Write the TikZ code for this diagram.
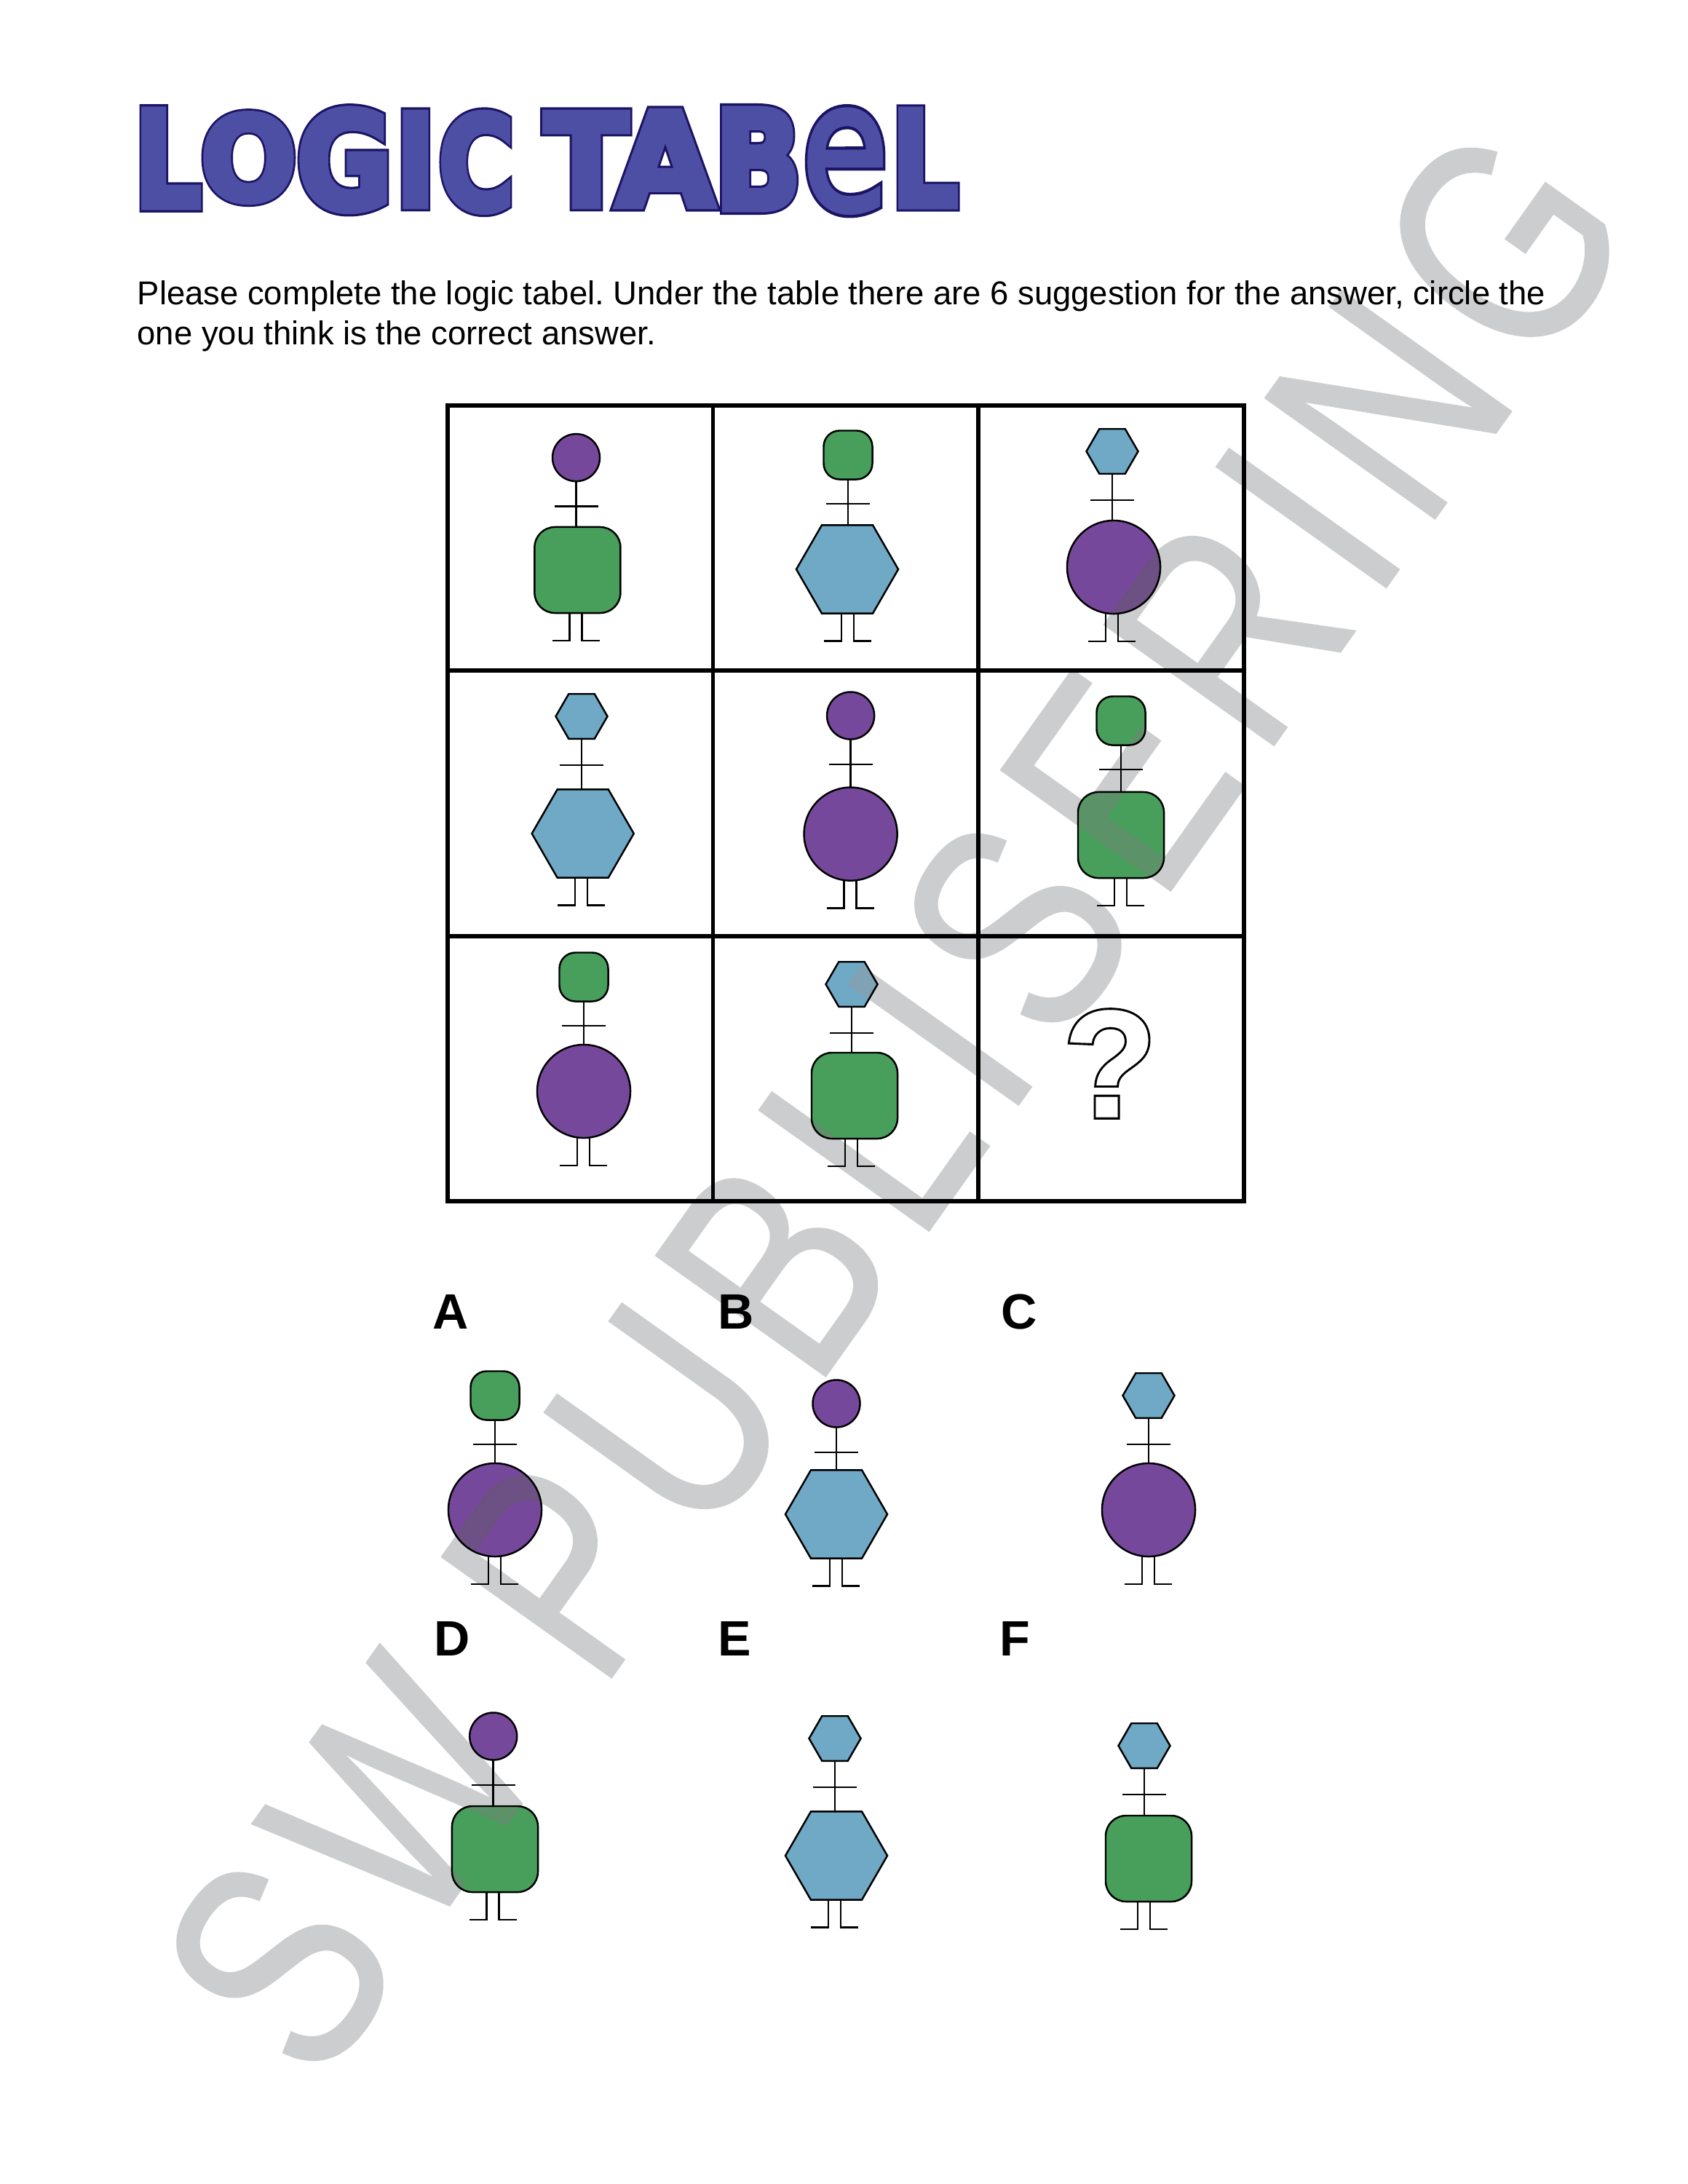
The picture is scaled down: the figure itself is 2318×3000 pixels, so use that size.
\documentclass[tikz,border=0pt]{standalone}
\usepackage{fontspec}
\usepackage{graphicx}
\usetikzlibrary{shapes.geometric}
\setmainfont{Liberation Sans}
\newfontfamily\titleouter{DejaVu Sans}[UprightFont={* Bold},RawFeature={embolden=8.5}]
\newfontfamily\titleinner{DejaVu Sans}[UprightFont={* Bold},RawFeature={embolden=5}]
\newfontfamily\smallouter{DejaVu Sans}[RawFeature={embolden=6.5}]
\newfontfamily\smallinner{DejaVu Sans}[RawFeature={embolden=3}]
\newfontfamily\quizouter{Liberation Sans}[UprightFont={* Bold},RawFeature={embolden=3}]
\newfontfamily\quizinner{Liberation Sans}[UprightFont={* Bold},RawFeature={embolden=0.1}]
\newfontfamily\markfont{Liberation Sans}[LetterSpace=9,RawFeature={embolden=0.7}]
\definecolor{purplefill}{HTML}{76489B}
\definecolor{greenfill}{HTML}{479F5B}
\definecolor{bluefill}{HTML}{6FA9C5}
\definecolor{markgray}{HTML}{CCCDCE}
\definecolor{titlefill}{HTML}{4C4FA3}
\definecolor{titleline}{HTML}{1B1464}
\newlength{\titleunit}
\setlength{\titleunit}{0.01cm}
% one letter of the heading: left, width, height, raise
\newcommand{\titlechar}[5]{\rlap{\hspace*{#1\titleunit}\raisebox{#4\titleunit}{\resizebox{#2\titleunit}{#3\titleunit}{#5}}}}
\newcommand{\titleword}[1]{%
  \titlechar{0}{92}{133}{8}{L}\titlechar{91}{132}{119}{17}{O}%
  \titlechar{223}{132}{137}{5}{G}\titlechar{359}{55}{128}{9}{I}%
  \titlechar{418}{104}{133}{4}{C}\rlap{\ }\titlechar{564}{114}{128}{9}{T}%
  \titlechar{662}{135}{130}{9}{A}\titlechar{797}{120}{137}{5}{B}%
  \titlechar{917}{119}{137}{4}{#1{}e}\titlechar{1040}{92}{132}{9}{L}}
\tikzset{
  gridline/.style={line width=1.45pt,draw=black},
  thinline/.style={line width=0.7pt,draw=black},
  figpart/.style={thinline,inner sep=0pt,outer sep=0pt},
  headround/.style={figpart,circle,fill=purplefill,minimum size=0.65cm},
  headsquare/.style={figpart,rectangle,rounded corners=0.22cm,fill=greenfill,minimum size=0.67cm},
  headhex/.style={figpart,regular polygon,regular polygon sides=6,fill=bluefill,minimum size=0.71cm},
  bodyround/.style={figpart,circle,fill=purplefill,minimum size=1.28cm},
  bodysquare/.style={figpart,rectangle,rounded corners=0.28cm,fill=greenfill,minimum size=1.18cm},
  bodyhex/.style={figpart,regular polygon,regular polygon sides=6,fill=bluefill,minimum size=1.40cm},
  option/.style={font=\fontsize{19.4}{19.4}\selectfont\bfseries,anchor=base west,inner sep=0pt},
  markstyle/.style={font=\fontsize{118}{118}\selectfont\markfont,rotate=54.6,inner sep=0pt,text=markgray}
}
% name, head style, body style, head x,y, body x,y
\newcommand{\person}[7]{
  \node[#2] (#1head) at (#4,#5) {};
  \node[#3] (#1body) at (#6,#7) {};
  \coordinate (#1hip) at (#1head.center |- #1body.south);
  \draw[thinline] (#1head.south) -- (#1head.south |- #1body.north);
  \draw[thinline] ([shift={(-30,67)}]#1head.center) -- ([shift={(30,67)}]#1head.center);
  \draw[thinline] ([xshift=-0.09cm]#1hip) -- ++(0,38) -- ++(-24,0);
  \draw[thinline] ([xshift=0.08cm]#1hip) -- ++(0,38) -- ++(24,0);
}
\newcommand{\watermark}[1]{\node[markstyle] (#1) at (1229,1510) {\scalebox{0.78}[1]{SW PUBLISERING}};}
\begin{document}
\begin{tikzpicture}[x=0.01cm,y=-0.01cm]
  \useasboundingbox[fill=white] (0,0) rectangle (2318,3000);
  \watermark{markunder}
  % table
  \person{aa}{headround}{bodysquare}{791.5}{628.6}{793.4}{783}
  \person{ab}{headsquare}{bodyhex}{1165}{625}{1164}{782}
  \person{ac}{headhex}{bodyround}{1528}{620}{1530}{779}
  \person{ba}{headhex}{bodyhex}{799}{984}{800.7}{1145}
  \person{bb}{headround}{bodyround}{1168.6}{983}{1168.6}{1145.6}
  \person{bc}{headsquare}{bodysquare}{1540}{990}{1540}{1147}
  \person{ca}{headsquare}{bodyround}{802}{1342}{802}{1499}
  \person{cb}{headhex}{bodysquare}{1170}{1352}{1174}{1505}
  % answers
  \person{optA}{headsquare}{bodyround}{680}{1917}{680}{2074}
  \person{optB}{headround}{bodyhex}{1149}{1928}{1149}{2080}
  \person{optC}{headhex}{bodyround}{1578}{1917}{1578}{2074}
  \person{optD}{headround}{bodysquare}{677.7}{2385}{680}{2540}
  \person{optE}{headhex}{bodyhex}{1147}{2388}{1149}{2549}
  \person{optF}{headhex}{bodysquare}{1572}{2398}{1578}{2553}
  \begin{scope}[blend mode=saturation,opacity=0.38]
    \watermark{markover}
  \end{scope}
  \foreach \xpos in {979.5,1344} \draw[gridline] (\xpos,557) -- (\xpos,1650);
  \foreach \ypos in {921,1286} \draw[gridline] (615,\ypos) -- (1709,\ypos);
  \draw[gridline] (615,557) rectangle (1709,1650);
  % question mark
  \node[font=\fontsize{60}{60}\selectfont\quizouter,text=black,inner sep=0pt] (quizback) at (1525,1461) {?};
  \node[font=\fontsize{60}{60}\selectfont\quizinner,text=white,inner sep=0pt] (quizfront) at (1525,1461) {?};
  % heading
  \node[anchor=base west,inner sep=0pt,text=titleline,font=\fontsize{60}{60}\selectfont\titleouter] (titleback) at (182,292) {\titleword{\smallouter}};
  \node[anchor=base west,inner sep=0pt,text=titlefill,font=\fontsize{60}{60}\selectfont\titleinner] (titlefront) at (182,292) {\titleword{\smallinner}};
  \node[anchor=north west,inner sep=0pt,align=left,font=\fontsize{12.92}{15.6}\selectfont\frenchspacing] (intro) at (188,385)
    {Please complete the logic tabel. Under the table there are 6 suggestion for the answer, circle the\\one you think is the correct answer.};
  % answer letters
  \node[option] (labelA) at (594,1825) {A};
  \node[option] (labelB) at (986,1825) {B};
  \node[option] (labelC) at (1375,1825) {C};
  \node[option] (labelD) at (596,2274) {D};
  \node[option] (labelE) at (986,2274) {E};
  \node[option] (labelF) at (1373,2274) {F};
\end{tikzpicture}
\end{document}
